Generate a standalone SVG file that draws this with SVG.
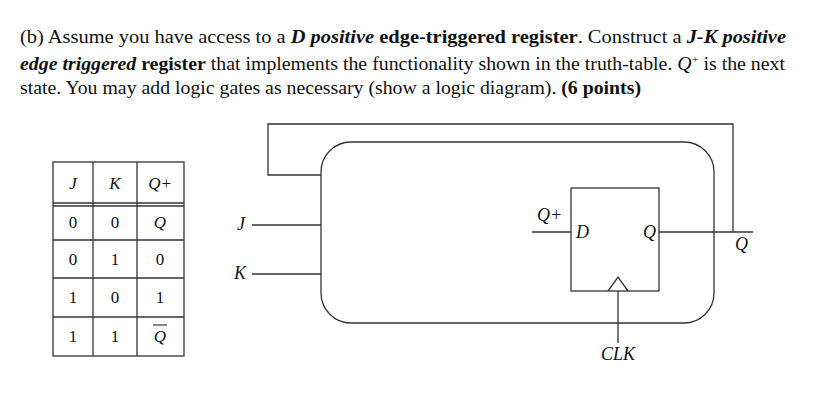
<svg xmlns="http://www.w3.org/2000/svg" width="829" height="402" viewBox="0 0 829 402">
<style>
text{font-family:'Liberation Serif','Times New Roman',serif;font-size:18px;fill:#111}
.i{font-style:italic}.b{font-weight:bold}
.l{stroke:#333;stroke-width:1.3;fill:none}
.t{font-size:17px;text-anchor:middle}
</style>
<rect width="829" height="402" fill="#fff"/>
<text x="20" y="43" textLength="766" lengthAdjust="spacingAndGlyphs">(b) Assume you have access to a <tspan class="b i">D positive</tspan> <tspan class="b">edge-triggered register</tspan>. Construct a <tspan class="b i">J-K positive</tspan></text>
<text x="20" y="70" textLength="765" lengthAdjust="spacingAndGlyphs"><tspan class="b i">edge triggered</tspan> <tspan class="b">register</tspan> that implements the functionality shown in the truth-table. <tspan class="i">Q</tspan><tspan font-size="11" dy="-7">+</tspan><tspan dy="7"> is the next</tspan></text>
<text x="20" y="94" textLength="621" lengthAdjust="spacingAndGlyphs">state. You may add logic gates as necessary (show a logic diagram). <tspan class="b">(6 points)</tspan></text>
<g id="table" class="l">
<rect x="53" y="162" width="131" height="194"/>
<line x1="93" y1="162" x2="93" y2="356"/><line x1="137" y1="162" x2="137" y2="356"/>
<line x1="53" y1="203" x2="184" y2="203"/><line x1="53" y1="206" x2="184" y2="206"/>
<line x1="53" y1="240" x2="184" y2="240"/><line x1="53" y1="278" x2="184" y2="278"/><line x1="53" y1="317" x2="184" y2="317"/>
</g>
<g id="table-text">
<text x="73" y="189" class="i t">J</text><text x="115" y="189" class="i t">K</text><text x="160" y="189" class="i t">Q+</text>
<text x="73" y="228" class="t">0</text><text x="115" y="228" class="t">0</text><text x="160" y="228" class="i t">Q</text>
<text x="73" y="265" class="t">0</text><text x="115" y="265" class="t">1</text><text x="160" y="265" class="t">0</text>
<text x="73" y="303" class="t">1</text><text x="115" y="303" class="t">0</text><text x="160" y="303" class="t">1</text>
<text x="73" y="342" class="t">1</text><text x="115" y="342" class="t">1</text><text x="160" y="342" class="i t">Q</text>
<line x1="153" y1="325" x2="167" y2="325" stroke="#111" stroke-width="1"/>
</g>
<g id="block"><rect x="321" y="142" width="393" height="181" rx="30" class="l"/></g>
<g id="dff">
<rect x="571" y="188" width="88" height="103" class="l"/>
<polyline points="608,291 618,277 628,291" class="l"/>
<text x="576" y="238" class="i">D</text>
<text x="656" y="238" class="i" text-anchor="end">Q</text>
</g>
<g id="connectors" class="l">
<polyline points="733,232 733,124 268,124 268,175 321,175"/>
<line x1="252" y1="225" x2="321" y2="225"/>
<line x1="252" y1="274" x2="321" y2="274"/>
<line x1="532" y1="232" x2="571" y2="232"/>
<line x1="659" y1="232" x2="753" y2="232"/>
<line x1="618" y1="291" x2="618" y2="343"/>
</g>
<g id="labels">
<text x="237" y="230" class="i">J</text>
<text x="234" y="279" class="i">K</text>
<text x="537" y="221" class="i">Q+</text>
<text x="735" y="250" class="i">Q</text>
<text x="618" y="360" class="i" text-anchor="middle">CLK</text>
</g>
</svg>
